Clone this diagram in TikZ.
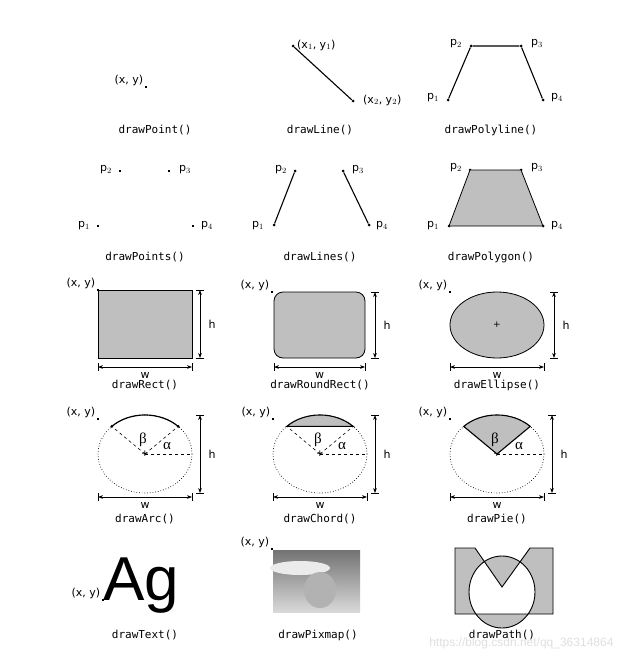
\documentclass[tikz,border=0pt]{standalone}
\usepackage{fontspec}
\setmainfont{DejaVu Sans}
\newfontfamily\codefont{DejaVu Sans Mono}
\newfontfamily\grk{Liberation Serif}
\usetikzlibrary{arrows.meta}
\begin{document}
\begin{tikzpicture}[x=1pt,y=-1pt,
  lab/.style={font=\fontsize{11}{13}\selectfont\codefont},
  txt/.style={font=\fontsize{11}{13}\selectfont, inner sep=1pt},
  pt/.style={fill=black, minimum size=2.8pt, inner sep=0pt},
  pix/.style={fill=black, minimum size=3pt, inner sep=0pt, circle},
  edge/.style={line width=1.1pt},
  fillshape/.style={draw=black, fill=black!25, line width=0.8pt},
  dim/.style={line width=1pt, {Stealth[length=5pt]}-{Stealth[length=5pt]}},
  bar/.style={line width=1pt},
  dashln/.style={dashed, line width=0.6pt},
  dots/.style={dotted, line width=0.7pt},
  grklab/.style={font=\fontsize{15}{16}\selectfont\grk, inner sep=0pt}]
\useasboundingbox (0,0) rectangle (619,661);
\fill[white] (0,0) rectangle (619,661);

% ---- drawPoint
\node[pt] (pp) at (146,87) {};
\node[txt, anchor=south east] (ppl) at (pp.west) {(x, y)};
\node[lab] (l1) at (155,130) {drawPoint()};
% ---- drawLine
\node[pix] (la) at (293,46) {};
\node[pix] (lb) at (353,101) {};
\draw[edge] (la) -- (lb);
\node[txt, anchor=west] (lal) at (296,45) {(x$_1$, y$_1$)};
\node[txt, anchor=west] (lbl) at (362,100) {(x$_2$, y$_2$)};
\node[lab] (l2) at (320,130) {drawLine()};
% ---- drawPolyline
\node[pix] (q1) at (448,100) {};
\node[pix] (q2) at (471,46) {};
\node[pix] (q3) at (521,46) {};
\node[pix] (q4) at (543,100) {};
\draw[edge] (q1) -- (q2) -- (q3) -- (q4);
\node[txt] at (433,98) {p$_1$};
\node[txt] at (456,44) {p$_2$};
\node[txt] at (537,44) {p$_3$};
\node[txt] at (557,98) {p$_4$};
\node[lab] (l3) at (491,130) {drawPolyline()};

% ---- drawPoints
\node[pt] (s1) at (98,226) {};
\node[pt] (s2) at (120,171) {};
\node[pt] (s3) at (169,171) {};
\node[pt] (s4) at (193,226) {};
\node[txt] at (84,226) {p$_1$};
\node[txt] at (106,170) {p$_2$};
\node[txt] at (185,170) {p$_3$};
\node[txt] at (207,226) {p$_4$};
\node[lab] (l4) at (145,257) {drawPoints()};
% ---- drawLines
\node[pix] (m1) at (274,225) {};
\node[pix] (m2) at (295,171) {};
\node[pix] (m3) at (343,171) {};
\node[pix] (m4) at (369,225) {};
\draw[edge] (m1) -- (m2);
\draw[edge] (m3) -- (m4);
\node[txt] at (258,226) {p$_1$};
\node[txt] at (281,170) {p$_2$};
\node[txt] at (358,170) {p$_3$};
\node[txt] at (382,226) {p$_4$};
\node[lab] (l5) at (320,257) {drawLines()};
% ---- drawPolygon
\node[pix] (g1) at (449,226) {};
\node[pix] (g2) at (470,170) {};
\node[pix] (g3) at (521,170) {};
\node[pix] (g4) at (543,226) {};
\draw[fillshape] (g1.center) -- (g2.center) -- (g3.center) -- (g4.center) -- cycle;
\node[txt] at (433,226) {p$_1$};
\node[txt] at (456,168) {p$_2$};
\node[txt] at (537,168) {p$_3$};
\node[txt] at (557,226) {p$_4$};
\node[lab] (l6) at (491,257) {drawPolygon()};

% ---- dimension helper macro: xl, xr, yt, yb, xh, yw
\newcommand{\mydims}[6]{%
  \draw[dim] (#5,#3) -- (#5,#4);
  \draw[bar] (#5-4,#3) -- (#5+4,#3); \draw[bar] (#5-4,#4) -- (#5+4,#4);
  \node[txt] at (#5+12,{(#3+#4)/2}) {h};
  \draw[dim] (#1,#6) -- (#2,#6);
  \draw[bar] (#1,#6-4) -- (#1,#6+4); \draw[bar] (#2,#6-4) -- (#2,#6+4);
  \node[txt] at ({(#1+#2)/2},#6+8) {w};}

% ---- drawRect
\draw[fillshape] (98,290) rectangle (192,358);
\node[pt] (rp) at (98,290) {};
\node[txt, anchor=south east] at (rp.west) {(x, y)};
\mydims{98}{192}{290}{358}{200}{367}
\node[lab] (l7) at (145,385) {drawRect()};
% ---- drawRoundRect
\draw[fillshape, rounded corners=9pt] (274,292) rectangle (365,358);
\node[pt] (rr) at (272,292) {};
\node[txt, anchor=south east] at (rr.west) {(x, y)};
\mydims{274}{365}{292}{358}{375}{367}
\node[lab] (l8) at (320,385) {drawRoundRect()};
% ---- drawEllipse
\draw[fillshape] (497,325) ellipse [x radius=47, y radius=33];
\node[font=\small] at (497,325) {+};
\node[pt] (ep) at (450,292) {};
\node[txt, anchor=south east] at (ep.west) {(x, y)};
\mydims{450}{544}{292}{358}{554}{367}
\node[lab] (l9) at (497,385) {drawEllipse()};

% ---- arcs
\newcommand{\myarcbase}[1]{% center x
  \draw[dots] (#1,454) ellipse [x radius=47, y radius=39];
  \draw[dashln] (#1,454) -- (#1+47,454);
  \node[font=\small, inner sep=0pt] at (#1,454) {+};
  \node[grklab] at (#1+22,446) {α};
  \node[pt] (xy#1) at (#1-47,419) {};
  \node[txt, anchor=south east] at (xy#1.west) {(x, y)};
  \mydims{#1-47}{#1+47}{415}{493}{#1+55}{497}}
% drawArc
\myarcbase{145}
\draw[dashln] (145,454) -- +(-33.2,-27.6);
\draw[dashln] (145,454) -- +(33.2,-27.6);
\draw[line width=1.2pt] (178.2,426.4) arc[start angle=-45, end angle=-135, x radius=47, y radius=39];
\node[pix] at (111.8,426.4) {};
\node[pix] at (178.2,426.4) {};
\node[grklab] at (143,440) {β};
\node[lab] (l10) at (145,519) {drawArc()};
% drawChord
\myarcbase{320}
\draw[dashln] (320,454) -- +(-33.2,-27.6);
\draw[dashln] (320,454) -- +(33.2,-27.6);
\draw[fillshape, line width=1.1pt] (353.2,426.4) arc[start angle=-45, end angle=-135, x radius=47, y radius=39] -- cycle;
\node[grklab] at (318,440) {β};
\node[lab] (l11) at (320,519) {drawChord()};
% drawPie
\myarcbase{497}
\draw[fillshape, line width=1.1pt] (497,454) -- (530.2,426.4) arc[start angle=-45, end angle=-135, x radius=47, y radius=39] -- cycle;
\node[grklab] at (495,440) {β};
\node[lab] (l12) at (497,519) {drawPie()};

% ---- drawText
\node[pt] (tp) at (103,600) {};
\node[txt, anchor=south east] at (tp.west) {(x, y)};
\node[anchor=base west, inner sep=0pt, font=\fontsize{62}{62}\selectfont\fontspec{Liberation Sans}] (ag) at (103,600) {Ag};
\node[lab] (l13) at (145,635) {drawText()};
% ---- drawPixmap
\shade[top color=black!55, bottom color=black!15] (273,550) rectangle (360,612);
\fill[black!8] (300,568) ellipse [x radius=30, y radius=7];
\fill[black!30] (320,590) ellipse [x radius=16, y radius=18];
\node[pt] (xp) at (272,549) {};
\node[txt, anchor=south east] at (xp.west) {(x, y)};
\node[lab] (l14) at (318,635) {drawPixmap()};
% ---- drawPath
\draw[fill=black!25, even odd rule, line width=0.9pt]
  (455,548) -- (475,548) -- (502,587) -- (530,548) -- (553,548) -- (553,614) -- (455,614) -- cycle
  (502,592) ellipse [x radius=33, y radius=36];
\node[lab] (l15) at (502,635) {drawPath()};

\node[font=\fontsize{12}{14}\selectfont\fontspec{Liberation Sans}, text=black!12, anchor=east] (wm) at (617,643) {https://blog.csdn.net/qq\_36314864};
\end{tikzpicture}
\end{document}
